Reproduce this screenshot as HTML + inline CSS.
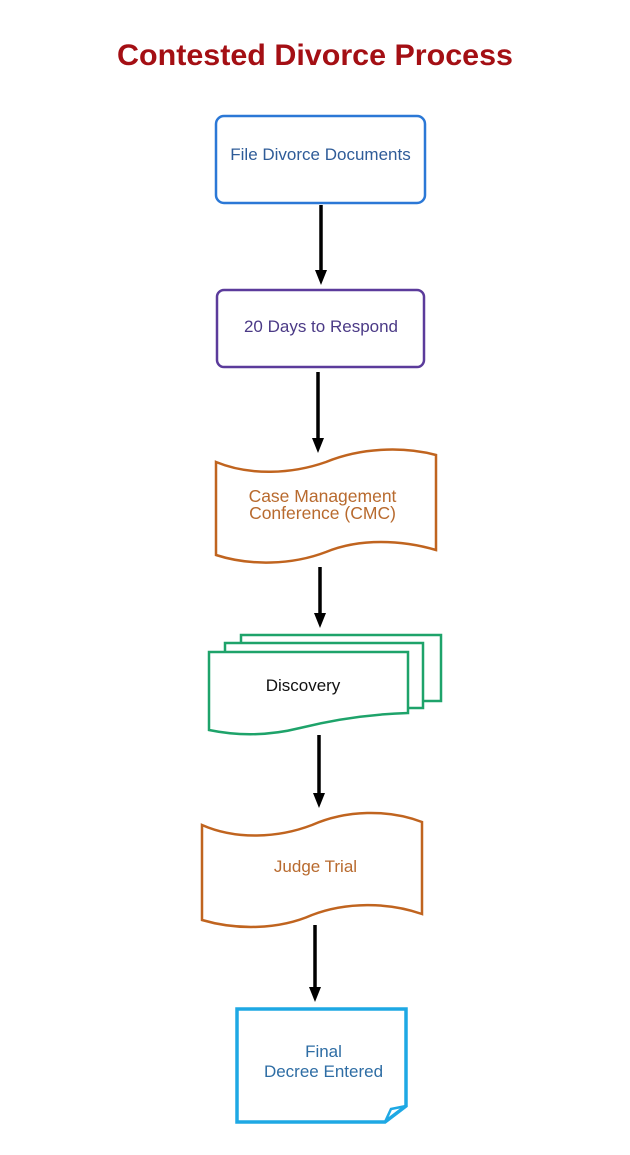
<!DOCTYPE html>
<html><head><meta charset="utf-8"><style>
html,body{margin:0;padding:0;background:#fff;}
svg{display:block;}
text{font-family:"Liberation Sans",Arial,sans-serif;}
</style></head><body>
<svg width="630" height="1155" viewBox="0 0 630 1155" xmlns="http://www.w3.org/2000/svg">
<rect width="630" height="1155" fill="#fff"/>
<text x="117" y="65" font-size="30" font-weight="bold" fill="#a40f14" textLength="396" lengthAdjust="spacingAndGlyphs">Contested Divorce Process</text>

<!-- Box 1 -->
<rect x="216" y="116" width="209" height="87" rx="8" fill="#fff" stroke="#2b78d6" stroke-width="2.5"/>
<text x="320.5" y="160" font-size="17" fill="#2f5c98" text-anchor="middle">File Divorce Documents</text>

<!-- Arrow 1 -->
<line x1="321" y1="205" x2="321" y2="272" stroke="#000" stroke-width="3.5"/>
<polygon points="315,270 327,270 321,285" fill="#000"/>

<!-- Box 2 -->
<rect x="217" y="290" width="207" height="77" rx="7" fill="#fff" stroke="#5b3b9b" stroke-width="2.5"/>
<text x="321" y="332" font-size="17" fill="#4b3a86" text-anchor="middle">20 Days to Respond</text>

<!-- Arrow 2 -->
<line x1="318" y1="372" x2="318" y2="440" stroke="#000" stroke-width="3.5"/>
<polygon points="312,438 324,438 318,453" fill="#000"/>

<!-- CMC tape -->
<path d="M216,462 C250,476 292,474 326,462 C360,448 402,446 436,455 L436,550 C402,540 360,538 326,552 C292,565 250,566 216,555 Z" fill="#fff" stroke="#c0641f" stroke-width="2.5"/>
<text x="322.5" y="502" font-size="17.5" fill="#b86a2e" text-anchor="middle">Case Management</text>
<text x="322.5" y="519" font-size="17.5" fill="#b86a2e" text-anchor="middle">Conference (CMC)</text>

<!-- Arrow 3 -->
<line x1="320" y1="567" x2="320" y2="615" stroke="#000" stroke-width="3.5"/>
<polygon points="314,613 326,613 320,628" fill="#000"/>

<!-- Discovery multi-document -->
<path d="M241,643 L241,635 L441,635 L441,701 L423,701" fill="#fff" stroke="#1ea36a" stroke-width="2.5"/>
<path d="M225,652 L225,643 L423,643 L423,708 L408,708" fill="#fff" stroke="#1ea36a" stroke-width="2.5"/>
<path d="M209,652 L408,652 L408,713 C375,714 340,718 300,728 C268,736 238,736 209,730 Z" fill="#fff" stroke="#1ea36a" stroke-width="2.5"/>
<text x="303" y="691" font-size="17" fill="#111" text-anchor="middle">Discovery</text>

<!-- Arrow 4 -->
<line x1="319" y1="735" x2="319" y2="795" stroke="#000" stroke-width="3.5"/>
<polygon points="313,793 325,793 319,808" fill="#000"/>

<!-- Judge Trial tape -->
<path d="M202,825 C236,840 278,838 312,825 C346,810 388,809 422,822 L422,914 C388,902 346,902 312,915 C278,930 236,930 202,920 Z" fill="#fff" stroke="#c0641f" stroke-width="2.5"/>
<text x="315.5" y="872" font-size="17" fill="#b86a2e" text-anchor="middle">Judge Trial</text>

<!-- Arrow 5 -->
<line x1="315" y1="925" x2="315" y2="989" stroke="#000" stroke-width="3.5"/>
<polygon points="309,987 321,987 315,1002" fill="#000"/>

<!-- Final box with folded corner -->
<path d="M237,1009 L406,1009 L406,1106 L385,1122 L237,1122 Z" fill="#fff" stroke="#1ea8e4" stroke-width="3.5" stroke-linejoin="miter"/>
<path d="M385,1122 L391,1109 L406,1106" fill="none" stroke="#1ea8e4" stroke-width="2.5"/>
<text x="323.5" y="1057" font-size="17" fill="#2e6da4" text-anchor="middle">Final</text>
<text x="323.5" y="1077" font-size="17" fill="#2e6da4" text-anchor="middle">Decree Entered</text>
</svg>
</body></html>
